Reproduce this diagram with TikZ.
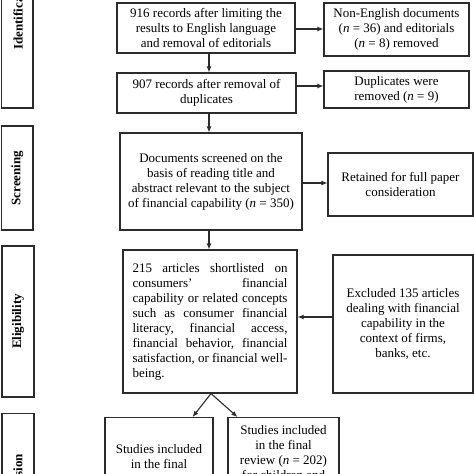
\documentclass[tikz,border=0pt]{standalone}
\usepackage{fontspec}
\setmainfont{Liberation Serif}
\usetikzlibrary{arrows.meta}
\definecolor{linec}{HTML}{2B2B2B}
\newcommand\fs{\fontsize{13}{15}\selectfont}
\newcommand\jl[1]{\makebox[155pt][l]{#1}}
\begin{document}
\begin{tikzpicture}[x=1pt,y=-1pt,
  box/.style={draw=linec, line width=1.1pt, inner sep=0pt, align=center, font=\fs, text=black},
  sidebox/.style={draw=linec, line width=1.1pt, inner sep=0pt},
  sidetext/.style={rotate=90, inner sep=0pt, font=\fs\bfseries, text=black},
  arr/.style={draw=linec, line width=1.1pt, -{Latex[length=6pt,width=5pt]}},
]
\useasboundingbox (0,0) rectangle (474,474);
\clip (0,0) rectangle (474,474);
\fill[white] (0,0) rectangle (474,474);

% side boxes
\node[sidebox, minimum width=31.5pt, minimum height=208pt] (s1) at (17.25,4) {};
\node[sidetext, anchor=west] (t1) at (18,50) {Identification};
\node[sidebox, minimum width=31.5pt, minimum height=104pt] (s2) at (17.25,178) {};
\node[sidetext] (t2) at (s2.center) {Screening};
\node[sidebox, minimum width=32pt, minimum height=151pt] (s3) at (18,321.5) {};
\node[sidetext] (t3) at (s3.center) {Eligibility};
\node[sidebox, minimum width=32pt, minimum height=150pt, anchor=north] (s4) at (18,413) {};
\node[sidetext, anchor=east] (t4) at (18,454) {Inclusion};

% main column
\node[box, minimum width=178pt, minimum height=50pt] (b1) at (206,28)
  {916 records after limiting the\\results to English language\\and removal of editorials};
\node[box, minimum width=179pt, minimum height=40pt] (b2) at (206.5,93)
  {907 records after removal of\\duplicates};
\node[box, minimum width=182pt, minimum height=97pt] (b3) at (211,181.5)
  {Documents screened on the\\basis of reading title and\\abstract relevant to the subject\\of financial capability (\textit{n} = 350)};
\node[box, minimum width=174pt, minimum height=143pt, align=left, text width=155pt] (b4) at (210,321.5)
  {\jl{215\hfill articles\hfill shortlisted\hfill on}\\
   \jl{consumers’\hfill financial}\\
   \jl{capability\hfill or\hfill related\hfill concepts}\\
   \jl{such\hfill as\hfill consumer\hfill financial}\\
   \jl{literacy,\hfill financial\hfill access,}\\
   \jl{financial\hfill behavior,\hfill financial}\\
   \jl{satisfaction,\hfill or\hfill financial\hfill well-}\\
   being.};

% right column
\node[box, minimum width=145pt, minimum height=53pt] (r1) at (396.5,29.5)
  {Non-English documents\\(\textit{n} = 36) and editorials\\(\textit{n} = 8) removed};
\node[box, minimum width=145pt, minimum height=37pt] (r2) at (396.5,89.5)
  {Duplicates were\\removed (\textit{n} = 9)};
\node[box, minimum width=145pt, minimum height=63pt] (r3) at (400.5,184.5)
  {Retained for full paper\\consideration};
\node[box, minimum width=140pt, minimum height=138pt] (r4) at (403,324)
  {Excluded 135 articles\\dealing with financial\\capability in the\\context of firms,\\banks, etc.};

% inclusion boxes
\node[box, anchor=north, minimum width=108pt, inner ysep=27pt] (i1) at (159,417)
  {Studies included\\in the final\\review};
\node[box, anchor=north, minimum width=111pt, inner ysep=8pt] (i2) at (283.5,417)
  {Studies included\\in the final\\review (\textit{n} = 202)\\for children and\\adolescents};

% connectors
\coordinate (vx) at (209,0);
\draw[arr] (b1.south -| vx) -- (b2.north -| vx);
\draw[arr] (b2.south -| vx) -- (b3.north -| vx);
\draw[arr] (b3.south -| vx) -- (b4.north -| vx);
\coordinate (h1) at (0,29);
\coordinate (h2) at (0,86);
\coordinate (h3) at (0,183);
\coordinate (h4) at (0,317);
\draw[arr] (b1.east |- h1) -- (r1.west |- h1);
\draw[arr] (b2.east |- h2) -- (r2.west |- h2);
\draw[arr] (b3.east |- h3) -- (r3.west |- h3);
\draw[arr] (r4.west |- h4) -- (b4.east |- h4);
\draw[arr] ([xshift=1pt]b4.south) -- ([xshift=-21pt]i1.north east);
\draw[arr] ([xshift=1pt]b4.south) -- ([xshift=10pt]i2.north west);
\end{tikzpicture}
\end{document}
